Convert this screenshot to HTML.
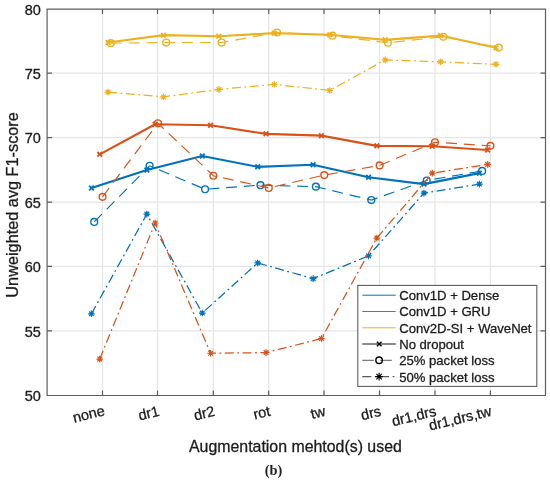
<!DOCTYPE html>
<html lang="en">
<head>
<meta charset="utf-8">
<title>Figure (b)</title>
<style>html,body{margin:0;padding:0;background:#fff}svg{display:block}</style>
</head>
<body>
<svg width="550" height="483" viewBox="0 0 550 483" font-family="'Liberation Sans', Arial, Helvetica, sans-serif" fill="#1c1c1c">
<rect width="550" height="483" fill="#fff"/>
<path d="M102.5 9.05V395.5M157.5 9.05V395.5M213.3 9.05V395.5M268.7 9.05V395.5M324 9.05V395.5M379.5 9.05V395.5M435 9.05V395.5M490.4 9.05V395.5M47.1 330.84H545.5M47.1 266.43H545.5M47.1 202.03H545.5M47.1 137.62H545.5M47.1 73.21H545.5" stroke="#e6e6e6" stroke-width="1.25" fill="none"/>
<polyline points="91.44,187.96 146.86,170.06 202.28,156.02 257.7,166.84 313.12,164.78 368.54,177.27 423.96,184.1 479.38,173.15" stroke="#0072BD" stroke-width="2.15" fill="none" stroke-linejoin="round"/>
<path d="M89.09 185.61L93.79 190.31M89.09 190.31L93.79 185.61" stroke="#0072BD" stroke-width="1.8" fill="none"/>
<path d="M144.51 167.71L149.21 172.41M144.51 172.41L149.21 167.71" stroke="#0072BD" stroke-width="1.8" fill="none"/>
<path d="M199.93 153.67L204.63 158.37M199.93 158.37L204.63 153.67" stroke="#0072BD" stroke-width="1.8" fill="none"/>
<path d="M255.35 164.49L260.05 169.19M255.35 169.19L260.05 164.49" stroke="#0072BD" stroke-width="1.8" fill="none"/>
<path d="M310.77 162.43L315.47 167.13M310.77 167.13L315.47 162.43" stroke="#0072BD" stroke-width="1.8" fill="none"/>
<path d="M366.19 174.92L370.89 179.62M366.19 179.62L370.89 174.92" stroke="#0072BD" stroke-width="1.8" fill="none"/>
<path d="M421.61 181.75L426.31 186.45M421.61 186.45L426.31 181.75" stroke="#0072BD" stroke-width="1.8" fill="none"/>
<path d="M477.03 170.8L481.73 175.5M477.03 175.5L481.73 170.8" stroke="#0072BD" stroke-width="1.8" fill="none"/>
<polyline points="94.21,221.97 149.63,165.81 205.05,189.25 260.47,185.13 315.89,186.67 371.31,200.07 426.73,180.49 482.15,170.96" stroke="#0072BD" stroke-width="1.15" stroke-dasharray="11 6.8" fill="none"/>
<circle cx="94.21" cy="221.97" r="3.4" stroke="#0072BD" stroke-width="1.4" fill="none"/>
<circle cx="149.63" cy="165.81" r="3.4" stroke="#0072BD" stroke-width="1.4" fill="none"/>
<circle cx="205.05" cy="189.25" r="3.4" stroke="#0072BD" stroke-width="1.4" fill="none"/>
<circle cx="260.47" cy="185.13" r="3.4" stroke="#0072BD" stroke-width="1.4" fill="none"/>
<circle cx="315.89" cy="186.67" r="3.4" stroke="#0072BD" stroke-width="1.4" fill="none"/>
<circle cx="371.31" cy="200.07" r="3.4" stroke="#0072BD" stroke-width="1.4" fill="none"/>
<circle cx="426.73" cy="180.49" r="3.4" stroke="#0072BD" stroke-width="1.4" fill="none"/>
<circle cx="482.15" cy="170.96" r="3.4" stroke="#0072BD" stroke-width="1.4" fill="none"/>
<polyline points="91.44,313.82 146.86,214.11 202.28,313.04 257.7,262.93 313.12,278.65 368.54,255.85 423.96,193.12 479.38,184.1" stroke="#0072BD" stroke-width="1.25" stroke-dasharray="9 3.5 1.8 3.5" fill="none"/>
<path d="M88.14 313.82H94.74M91.44 310.52V317.12M89.1 311.48L93.77 316.15M89.1 316.15L93.77 311.48" stroke="#0072BD" stroke-width="1.2" fill="none"/>
<path d="M143.56 214.11H150.16M146.86 210.81V217.41M144.52 211.78L149.19 216.45M144.52 216.45L149.19 211.78" stroke="#0072BD" stroke-width="1.2" fill="none"/>
<path d="M198.98 313.04H205.58M202.28 309.74V316.34M199.94 310.71L204.61 315.38M199.94 315.38L204.61 310.71" stroke="#0072BD" stroke-width="1.2" fill="none"/>
<path d="M254.4 262.93H261M257.7 259.63V266.23M255.36 260.6L260.03 265.27M255.36 265.27L260.03 260.6" stroke="#0072BD" stroke-width="1.2" fill="none"/>
<path d="M309.82 278.65H316.42M313.12 275.35V281.95M310.78 276.32L315.45 280.98M310.78 280.98L315.45 276.32" stroke="#0072BD" stroke-width="1.2" fill="none"/>
<path d="M365.24 255.85H371.84M368.54 252.55V259.15M366.2 253.52L370.87 258.18M366.2 258.18L370.87 253.52" stroke="#0072BD" stroke-width="1.2" fill="none"/>
<path d="M420.66 193.12H427.26M423.96 189.82V196.42M421.62 190.78L426.29 195.45M421.62 195.45L426.29 190.78" stroke="#0072BD" stroke-width="1.2" fill="none"/>
<path d="M476.08 184.1H482.68M479.38 180.8V187.4M477.04 181.76L481.71 186.43M477.04 186.43L481.71 181.76" stroke="#0072BD" stroke-width="1.2" fill="none"/>
<polyline points="99.75,154.34 155.17,124.2 210.59,125.23 266.01,133.86 321.43,135.66 376.85,145.84 432.27,146.23 487.69,149.96" stroke="#D95319" stroke-width="2.15" fill="none" stroke-linejoin="round"/>
<path d="M97.4 151.99L102.1 156.69M97.4 156.69L102.1 151.99" stroke="#D95319" stroke-width="1.8" fill="none"/>
<path d="M152.82 121.85L157.52 126.55M152.82 126.55L157.52 121.85" stroke="#D95319" stroke-width="1.8" fill="none"/>
<path d="M208.24 122.88L212.94 127.58M208.24 127.58L212.94 122.88" stroke="#D95319" stroke-width="1.8" fill="none"/>
<path d="M263.66 131.51L268.36 136.21M263.66 136.21L268.36 131.51" stroke="#D95319" stroke-width="1.8" fill="none"/>
<path d="M319.08 133.31L323.78 138.01M319.08 138.01L323.78 133.31" stroke="#D95319" stroke-width="1.8" fill="none"/>
<path d="M374.5 143.49L379.2 148.19M374.5 148.19L379.2 143.49" stroke="#D95319" stroke-width="1.8" fill="none"/>
<path d="M429.92 143.88L434.62 148.58M429.92 148.58L434.62 143.88" stroke="#D95319" stroke-width="1.8" fill="none"/>
<path d="M485.34 147.61L490.04 152.31M485.34 152.31L490.04 147.61" stroke="#D95319" stroke-width="1.8" fill="none"/>
<polyline points="102.52,196.85 157.94,123.3 213.36,175.73 268.78,187.96 324.2,175.08 379.62,165.42 435.04,142.23 490.46,145.84" stroke="#D95319" stroke-width="1.15" stroke-dasharray="11 6.8" fill="none"/>
<circle cx="102.52" cy="196.85" r="3.4" stroke="#D95319" stroke-width="1.4" fill="none"/>
<circle cx="157.94" cy="123.3" r="3.4" stroke="#D95319" stroke-width="1.4" fill="none"/>
<circle cx="213.36" cy="175.73" r="3.4" stroke="#D95319" stroke-width="1.4" fill="none"/>
<circle cx="268.78" cy="187.96" r="3.4" stroke="#D95319" stroke-width="1.4" fill="none"/>
<circle cx="324.2" cy="175.08" r="3.4" stroke="#D95319" stroke-width="1.4" fill="none"/>
<circle cx="379.62" cy="165.42" r="3.4" stroke="#D95319" stroke-width="1.4" fill="none"/>
<circle cx="435.04" cy="142.23" r="3.4" stroke="#D95319" stroke-width="1.4" fill="none"/>
<circle cx="490.46" cy="145.84" r="3.4" stroke="#D95319" stroke-width="1.4" fill="none"/>
<polyline points="99.75,359.03 155.17,223 210.59,353.23 266.01,352.59 321.43,338.55 376.85,238.07 432.27,173.15 487.69,164.39" stroke="#D95319" stroke-width="1.25" stroke-dasharray="9 3.5 1.8 3.5" fill="none"/>
<path d="M96.45 359.03H103.05M99.75 355.73V362.33M97.42 356.7L102.08 361.36M97.42 361.36L102.08 356.7" stroke="#D95319" stroke-width="1.2" fill="none"/>
<path d="M151.87 223H158.47M155.17 219.7V226.3M152.84 220.67L157.5 225.33M152.84 225.33L157.5 220.67" stroke="#D95319" stroke-width="1.2" fill="none"/>
<path d="M207.29 353.23H213.89M210.59 349.93V356.53M208.26 350.9L212.92 355.57M208.26 355.57L212.92 350.9" stroke="#D95319" stroke-width="1.2" fill="none"/>
<path d="M262.71 352.59H269.31M266.01 349.29V355.89M263.68 350.26L268.34 354.92M263.68 354.92L268.34 350.26" stroke="#D95319" stroke-width="1.2" fill="none"/>
<path d="M318.13 338.55H324.73M321.43 335.25V341.85M319.1 336.22L323.76 340.88M319.1 340.88L323.76 336.22" stroke="#D95319" stroke-width="1.2" fill="none"/>
<path d="M373.55 238.07H380.15M376.85 234.77V241.37M374.52 235.74L379.18 240.41M374.52 240.41L379.18 235.74" stroke="#D95319" stroke-width="1.2" fill="none"/>
<path d="M428.97 173.15H435.57M432.27 169.85V176.45M429.94 170.82L434.6 175.48M429.94 175.48L434.6 170.82" stroke="#D95319" stroke-width="1.2" fill="none"/>
<path d="M484.39 164.39H490.99M487.69 161.09V167.69M485.36 162.06L490.02 166.72M485.36 166.72L490.02 162.06" stroke="#D95319" stroke-width="1.2" fill="none"/>
<polyline points="108.06,42.53 163.48,35.19 218.9,36.22 274.32,33.13 329.74,34.8 385.16,39.82 440.58,35.57 496,47.81" stroke="#EDB120" stroke-width="2.15" fill="none" stroke-linejoin="round"/>
<path d="M105.71 40.18L110.41 44.88M105.71 44.88L110.41 40.18" stroke="#EDB120" stroke-width="1.8" fill="none"/>
<path d="M161.13 32.84L165.83 37.54M161.13 37.54L165.83 32.84" stroke="#EDB120" stroke-width="1.8" fill="none"/>
<path d="M216.55 33.87L221.25 38.57M216.55 38.57L221.25 33.87" stroke="#EDB120" stroke-width="1.8" fill="none"/>
<path d="M271.97 30.78L276.67 35.48M271.97 35.48L276.67 30.78" stroke="#EDB120" stroke-width="1.8" fill="none"/>
<path d="M327.39 32.45L332.09 37.15M327.39 37.15L332.09 32.45" stroke="#EDB120" stroke-width="1.8" fill="none"/>
<path d="M382.81 37.47L387.51 42.17M382.81 42.17L387.51 37.47" stroke="#EDB120" stroke-width="1.8" fill="none"/>
<path d="M438.23 33.22L442.93 37.92M438.23 37.92L442.93 33.22" stroke="#EDB120" stroke-width="1.8" fill="none"/>
<path d="M493.65 45.46L498.35 50.16M493.65 50.16L498.35 45.46" stroke="#EDB120" stroke-width="1.8" fill="none"/>
<polyline points="110.83,43.17 166.25,42.53 221.67,42.53 277.09,32.48 332.51,35.7 387.93,42.79 443.35,36.73 498.77,47.55" stroke="#EDB120" stroke-width="1.15" stroke-dasharray="11 6.8" fill="none"/>
<circle cx="110.83" cy="43.17" r="3.4" stroke="#EDB120" stroke-width="1.4" fill="none"/>
<circle cx="166.25" cy="42.53" r="3.4" stroke="#EDB120" stroke-width="1.4" fill="none"/>
<circle cx="221.67" cy="42.53" r="3.4" stroke="#EDB120" stroke-width="1.4" fill="none"/>
<circle cx="277.09" cy="32.48" r="3.4" stroke="#EDB120" stroke-width="1.4" fill="none"/>
<circle cx="332.51" cy="35.7" r="3.4" stroke="#EDB120" stroke-width="1.4" fill="none"/>
<circle cx="387.93" cy="42.79" r="3.4" stroke="#EDB120" stroke-width="1.4" fill="none"/>
<circle cx="443.35" cy="36.73" r="3.4" stroke="#EDB120" stroke-width="1.4" fill="none"/>
<circle cx="498.77" cy="47.55" r="3.4" stroke="#EDB120" stroke-width="1.4" fill="none"/>
<polyline points="108.06,92.12 163.48,96.89 218.9,89.42 274.32,84.39 329.74,90.45 385.16,59.92 440.58,61.85 496,64.3" stroke="#EDB120" stroke-width="1.25" stroke-dasharray="9 3.5 1.8 3.5" fill="none"/>
<path d="M104.76 92.12H111.36M108.06 88.82V95.42M105.73 89.79L110.4 94.46M105.73 94.46L110.4 89.79" stroke="#EDB120" stroke-width="1.2" fill="none"/>
<path d="M160.18 96.89H166.78M163.48 93.59V100.19M161.15 94.56L165.82 99.22M161.15 99.22L165.82 94.56" stroke="#EDB120" stroke-width="1.2" fill="none"/>
<path d="M215.6 89.42H222.2M218.9 86.12V92.72M216.57 87.08L221.24 91.75M216.57 91.75L221.24 87.08" stroke="#EDB120" stroke-width="1.2" fill="none"/>
<path d="M271.02 84.39H277.62M274.32 81.09V87.69M271.99 82.06L276.66 86.73M271.99 86.73L276.66 82.06" stroke="#EDB120" stroke-width="1.2" fill="none"/>
<path d="M326.44 90.45H333.04M329.74 87.15V93.75M327.41 88.12L332.08 92.78M327.41 92.78L332.08 88.12" stroke="#EDB120" stroke-width="1.2" fill="none"/>
<path d="M381.86 59.92H388.46M385.16 56.62V63.22M382.83 57.59L387.5 62.25M382.83 62.25L387.5 57.59" stroke="#EDB120" stroke-width="1.2" fill="none"/>
<path d="M437.28 61.85H443.88M440.58 58.55V65.15M438.25 59.52L442.92 64.18M438.25 64.18L442.92 59.52" stroke="#EDB120" stroke-width="1.2" fill="none"/>
<path d="M492.7 64.3H499.3M496 61V67.6M493.67 61.97L498.34 66.63M493.67 66.63L498.34 61.97" stroke="#EDB120" stroke-width="1.2" fill="none"/>
<path d="M47.1 9.05H545.5V395.5H47.1ZM102.5 395.5v-5M102.5 9.05v5M157.5 395.5v-5M157.5 9.05v5M213.3 395.5v-5M213.3 9.05v5M268.7 395.5v-5M268.7 9.05v5M324 395.5v-5M324 9.05v5M379.5 395.5v-5M379.5 9.05v5M435 395.5v-5M435 9.05v5M490.4 395.5v-5M490.4 9.05v5M47.1 330.84h5M545.5 330.84h-5M47.1 266.43h5M545.5 266.43h-5M47.1 202.03h5M545.5 202.03h-5M47.1 137.62h5M545.5 137.62h-5M47.1 73.21h5M545.5 73.21h-5" stroke="#5e5e5e" stroke-width="1.2" fill="none"/>
<g font-size="14.5" text-anchor="end" stroke="#1c1c1c" stroke-width="0.3">
<text x="40.9" y="401">50</text>
<text x="40.9" y="336.59">55</text>
<text x="40.9" y="272.18">60</text>
<text x="40.9" y="207.78">65</text>
<text x="40.9" y="143.37">70</text>
<text x="40.9" y="78.96">75</text>
<text x="40.9" y="14.55">80</text>
</g>
<g font-size="14.5" text-anchor="end" stroke="#1c1c1c" stroke-width="0.3">
<text transform="translate(105.52 415) rotate(-13.7)">none</text>
<text transform="translate(160.04 415.5) rotate(-13.7)">dr1</text>
<text transform="translate(215.56 415.5) rotate(-13.7)">dr2</text>
<text transform="translate(271.08 415.5) rotate(-13.7)">rot</text>
<text transform="translate(326.2 415.5) rotate(-13.7)">tw</text>
<text transform="translate(381.92 415.5) rotate(-13.7)">drs</text>
<text transform="translate(437.04 415.5) rotate(-13.7)">dr1,drs</text>
<text transform="translate(492.16 415.5) rotate(-13.7)">dr1,drs,tw</text>
</g>
<text x="295.4" y="451.6" font-size="15.9" text-anchor="middle" stroke="#1c1c1c" stroke-width="0.3">Augmentation mehtod(s) used</text>
<text transform="translate(17.6 204.9) rotate(-90)" font-size="16.3" text-anchor="middle" stroke="#1c1c1c" stroke-width="0.3">Unweighted avg F1-score</text>
<text x="273.6" y="475" font-size="14.4" font-weight="bold" text-anchor="middle" font-family="'Liberation Serif', 'Times New Roman', serif" fill="#222">(b)</text>
<rect x="357.8" y="285.4" width="179" height="101" fill="#fff" stroke="#5e5e5e" stroke-width="1.1"/>
<path d="M362.3 295.2H395.7" stroke="#0072BD" stroke-width="1"/>
<path d="M362.3 311.5H395.7" stroke="#D95319" stroke-width="1"/>
<path d="M362.3 327.8H395.7" stroke="#EDB120" stroke-width="1"/>
<path d="M362.3 344.0H395.7" stroke="#8a8a8a" stroke-width="2"/>
<path d="M376.9 341.7L381.5 346.3M376.9 346.3L381.5 341.7" stroke="#000" stroke-width="1.5" fill="none"/>
<path d="M362.3 360.3H395.7" stroke="#5a5a5a" stroke-width="1" stroke-dasharray="11.5 6.5"/>
<circle cx="379.1" cy="360.3" r="3.25" stroke="#000" stroke-width="1.4" fill="none"/>
<path d="M362.3 376.6H395.7" stroke="#5a5a5a" stroke-width="1.2" stroke-dasharray="9 3.5 1.8 3.5"/>
<path d="M375.3 376.6H382.9M379.1 372.8V380.4M376.41 373.91L381.79 379.29M376.41 379.29L381.79 373.91" stroke="#000" stroke-width="1.1" fill="none"/>
<g font-size="13.1" stroke="#1c1c1c" stroke-width="0.3">
<text x="399.2" y="300.1">Conv1D + Dense</text>
<text x="399.2" y="316.4">Conv1D + GRU</text>
<text x="399.2" y="332.7">Conv2D-SI + WaveNet</text>
<text x="399.2" y="348.9">No dropout</text>
<text x="399.2" y="365.2">25% packet loss</text>
<text x="399.2" y="381.5">50% packet loss</text>
</g>
</svg>
</body>
</html>
